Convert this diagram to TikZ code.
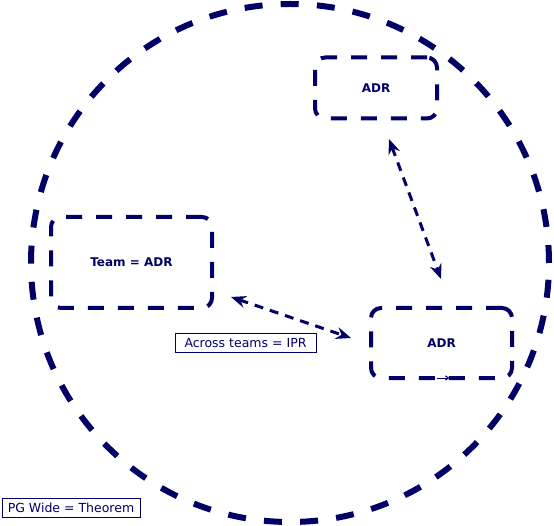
\documentclass[tikz,border=0pt]{standalone}
\usepackage{fontspec}
\setmainfont{DejaVu Sans}
\usetikzlibrary{arrows.meta}
\definecolor{navy}{HTML}{000066}
\tikzset{
  dbox/.style={draw=navy, line width=4pt, rounded corners=10pt, dash pattern=on 16pt off 14pt,
    text=navy, font=\fontsize{12}{14}\selectfont\bfseries, inner sep=0pt},
  lbl/.style={draw=navy, line width=0.8pt, text=navy, font=\fontsize{12.5}{14}\selectfont,
    inner sep=0pt, minimum height=19pt},
  arr/.style={draw=navy, line width=3pt, dash pattern=on 9pt off 7pt,
    {Stealth[length=15pt,width=12pt,inset=5pt]}-{Stealth[length=15pt,width=12pt,inset=5pt]}},
}
\begin{document}
\begin{tikzpicture}[x=1pt,y=-1pt]
\useasboundingbox (0,0) rectangle (554,526);
\draw[navy, line width=6pt, dash pattern=on 18pt off 18.2pt] (290,263) circle[radius=259pt];
\node[dbox, minimum width=122pt, minimum height=61pt] (tb) at (376,88) {ADR};
\node[dbox, minimum width=161pt, minimum height=91pt] (lb) at (131.5,262.5) {Team = ADR};
\node[dbox, minimum width=141pt, minimum height=70pt] (rb) at (441.5,343) {ADR};
\node[lbl, minimum width=141pt] (ipr) at (245.5,343) {Across teams = IPR};
\node[lbl, minimum width=138pt] (pg) at (71,508) {PG Wide = Theorem};
\coordinate (a1) at (231,297);
\coordinate (a2) at (351,338);
\coordinate (b1) at (389,139);
\coordinate (b2) at (441,279);
\draw[arr] (a1) -- (a2);
\draw[arr] (b1) -- (b2);
\coordinate (m1) at (437,378);
\coordinate (m2) at (449,378);
\draw[navy, line width=1pt, -{To[length=4pt,width=5pt]}] (m1) -- (m2);
\end{tikzpicture}
\end{document}
